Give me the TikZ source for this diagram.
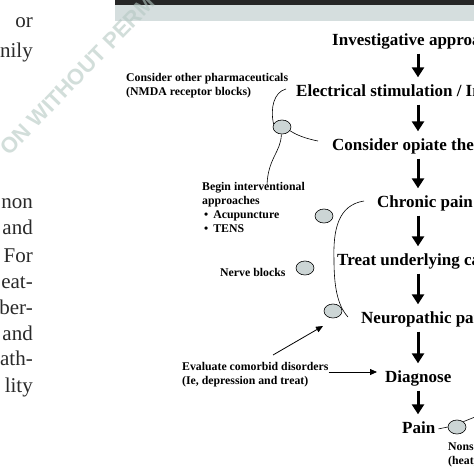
\documentclass[tikz,border=0pt]{standalone}
\usepackage{fontspec}
\setmainfont{Liberation Serif}
\newfontfamily\wmfont{Liberation Sans}
\usetikzlibrary{arrows.meta,shapes.geometric}
\definecolor{bandgray}{HTML}{D5DEDE}
\definecolor{ellgray}{HTML}{CCD5D5}
\definecolor{wmcol}{HTML}{B4C8C2}
\definecolor{bodytext}{HTML}{2A2A2A}
\tikzset{
  mainlbl/.style={font=\fontsize{17}{20}\selectfont\bfseries, inner sep=0pt, text height=12pt, text depth=4pt, anchor=west},
  sidelbl/.style={font=\fontsize{11.8}{14}\selectfont\bfseries, inner sep=0pt, align=left, anchor=west},
  flow/.style={line width=3pt, -{Triangle[length=10pt,width=12pt]}, shorten <=4pt, shorten >=7pt},
  bubble/.style={ellipse, draw, fill=ellgray, minimum width=18pt, minimum height=14pt, inner sep=0pt, line width=0.6pt},
  thinline/.style={line width=0.6pt},
  thinarrow/.style={line width=0.8pt, -{Triangle[length=7pt,width=6pt]}},
  bodylbl/.style={font=\fontsize{21}{26}\selectfont, text=bodytext, anchor=base east, inner sep=0pt},
  wmark/.style={font=\wmfont\bfseries\fontsize{22}{22}\selectfont, text=wmcol, opacity=0.6, anchor=base west, inner sep=0pt, rotate=46}
}
\begin{document}
\begin{tikzpicture}[x=1pt,y=-1pt]
\useasboundingbox (0,0) rectangle (474,474);
\clip (0,0) rectangle (474,474);
\fill[white] (0,0) rectangle (474,474);

% top band of the figure
\fill[black!85] (115,0) rectangle (474,4.5);
\fill[bandgray] (115,4.5) rectangle (474,21);

% body text fragments at left
\foreach \t/\y in {or/22, nily/52, non/203, and/229, For/257, eat-/283, ber-/309, and/335, ath-/360, lity/387}
  \node[bodylbl] (bt\y) at (33,\y+5) {\t};

% main flow
\coordinate (ax) at (418,0);
\node[mainlbl] (inv) at (332,41.5) {Investigative approaches};
\node[mainlbl] (ele) at (296,92.5) {Electrical stimulation / Infusion};
\node[mainlbl] (con) at (332,146.5) {Consider opiate therapy};
\node[mainlbl] (chr) at (377,203.5) {Chronic pain};
\node[mainlbl] (tre) at (337,261.5) {Treat underlying cause};
\node[mainlbl] (neu) at (361,319.5) {Neuropathic pain};
\node[mainlbl] (dia) at (385,378.5) {Diagnose};
\node[mainlbl] (pain) at (402,429.5) {Pain};

\draw[flow] (inv.south -| ax) -- (ele.north -| ax);
\draw[flow] (ele.south -| ax) -- (con.north -| ax);
\draw[flow] (con.south -| ax) -- (chr.north -| ax);
\draw[flow] (chr.south -| ax) -- (tre.north -| ax);
\draw[flow] (tre.south -| ax) -- (neu.north -| ax);
\draw[flow] (neu.south -| ax) -- (dia.north -| ax);
\draw[flow] (dia.south -| ax) -- (pain.north -| ax);

% side labels
\node[sidelbl] (pharm) at (126,85.5) {Consider other pharmaceuticals\\(NMDA receptor blocks)};
\node[sidelbl] (begin) at (202,207) {Begin interventional\\approaches\\\hspace*{2pt}\textbullet\hspace{5pt}Acupuncture\\\hspace*{2pt}\textbullet\hspace{5pt}TENS};
\node[sidelbl] (nerve) at (220,272) {Nerve blocks};
\node[sidelbl] (eval) at (182,375) {Evaluate comorbid disorders\\(Ie, depression and treat)};
\node[sidelbl] (nons) at (448,454.5) {Nonsurgical\\(heat, cold)};

% bubbles
\node[bubble] (b1) at (282,127) {};
\node[bubble] (b2) at (324,216) {};
\node[bubble] (b3) at (305,268) {};
\node[bubble] (b4) at (333,311) {};
\node[bubble] (b5) at (457,427) {};

% thin curves
\coordinate (c1end) at (286,89);
\coordinate (c2end) at (318,141);
\coordinate (c3end) at (267,185);
\coordinate (c4a) at (364,201);
\coordinate (c4b) at (348,317);
\coordinate (b5out) at (480,415);
\draw[thinline] (b1.160) .. controls (270,108) and (274,92) .. (c1end);
\draw[thinline] (b1.-25) .. controls (298,136) and (308,139) .. (c2end);
\draw[thinline] (b1.-95) .. controls (281,152) and (268,158) .. (c3end);
\draw[thinline] (c4a) .. controls (338,205) and (333,230) .. (334,260) .. controls (334,285) and (337,305) .. (c4b);
\draw[thinline, shorten <=3pt] (pain.east) -- (b5.west);
\draw[thinline] (b5.40) -- (b5out);

% evaluate arrows
\coordinate (ev1) at (273,355);
\coordinate (ev1t) at (323,326);
\coordinate (ev2y) at (0,372);
\draw[thinarrow] (ev1) -- (ev1t);
\draw[thinarrow, shorten >=8pt] (eval.east |- ev2y) -- (dia.west |- ev2y);

% watermark
\node[wmark] (wm) at (9.5,157) {ON WITHOUT PERM};
\end{tikzpicture}
\end{document}
